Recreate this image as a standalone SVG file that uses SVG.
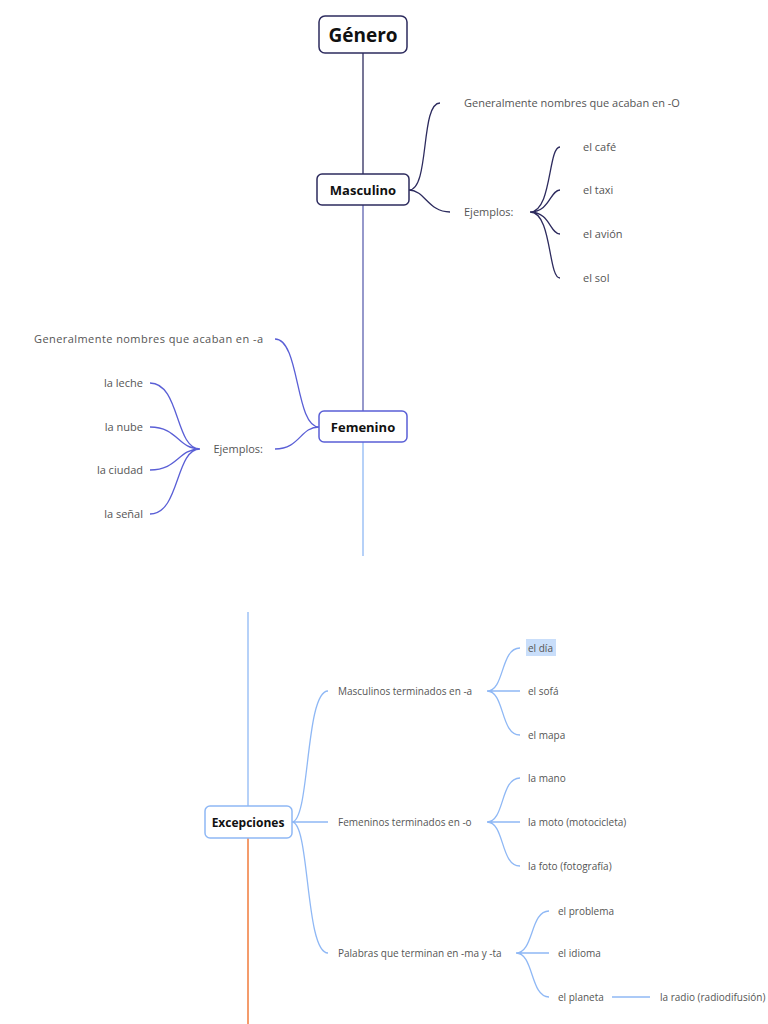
<svg xmlns="http://www.w3.org/2000/svg" width="768" height="1024" viewBox="0 0 768 1024">
<style>
text{font-family:"Open Sans","Noto Sans",sans-serif;font-size:11px;fill:#555}
#exc-items text{font-size:10px}
.b{font-weight:bold;fill:#111;font-size:13px}
.box{fill:#fff;stroke-width:1.5}
path{fill:none;stroke-width:1.3}
.n{stroke:#2d2b5e}.v{stroke:#5a5fd6}.l{stroke:#8fb8f5}.o{stroke:#f07b3b;stroke-width:1.5}
</style>
<rect width="768" height="1024" fill="#fff"/>
<g id="connectors">
<path class="n" d="M363 53V174"/>
<path class="v" d="M363 205V411" style="stroke:#5e62b0"/>
<path class="l" d="M363 442V556"/>
<path class="n" d="M409 190C430 190 420 103 440 103M409 190C425 190 428 212 450 212"/>
<path class="n" d="M530 212C552 212 548 147 560 147M530 212C550 212 550 190 560 190M530 212C550 212 550 234 560 234M530 212C552 212 548 278 560 278"/>
<path class="v" d="M319 427C295 427 300 339 275 339M319 427C300 427 300 449 275 449"/>
<path class="v" d="M200 449C175 449 180 383 150 383M200 449C178 449 178 427 150 427M200 449C178 449 178 470 150 470M200 449C175 449 180 514 150 514"/>
<path class="l" d="M248 612V806"/>
<path class="o" d="M248 838V1024"/>
<path class="l" d="M292 822C310 822 305 691 328 691M292 822H328M292 822C310 822 305 953 328 953"/>
<path class="l" d="M487 691C505 691 500 648 520 648M487 691H520M487 691C505 691 500 735 520 735"/>
<path class="l" d="M487 822C505 822 500 778 520 778M487 822H520M487 822C505 822 500 866 520 866"/>
<path class="l" d="M516 953C534 953 530 911 549 911M516 953H549M516 953C534 953 530 997 549 997"/>
<path class="l" d="M612 997H650"/>
</g>
<g id="genero"><rect class="box" x="319" y="16" width="88" height="37" rx="6" stroke="#2d2b5e"/><text class="b" x="363" y="42" text-anchor="middle" style="font-size:19px">Género</text></g>
<g id="masculino"><rect class="box" x="317" y="174" width="92" height="31" rx="5" stroke="#2d2b5e"/><text class="b" x="363" y="195" text-anchor="middle">Masculino</text></g>
<g id="femenino"><rect class="box" x="319" y="411" width="88" height="31" rx="5" stroke="#5a5fd6"/><text class="b" x="363" y="432" text-anchor="middle">Femenino</text></g>
<g id="excepciones"><rect class="box" x="205" y="806" width="87" height="32" rx="5" stroke="#8fb8f5"/><text class="b" x="248" y="827" text-anchor="middle" style="font-size:12px">Excepciones</text></g>
<g id="masc-items">
<text x="464" y="107">Generalmente nombres que acaban en -O</text>
<text x="464" y="216">Ejemplos:</text>
<text x="583" y="151">el café</text><text x="583" y="194">el taxi</text><text x="583" y="238">el avión</text><text x="583" y="282">el sol</text>
</g>
<g id="fem-items">
<text x="263" y="343" text-anchor="end" textLength="229" lengthAdjust="spacing">Generalmente nombres que acaban en -a</text>
<text x="263" y="453" text-anchor="end">Ejemplos:</text>
<text x="143" y="387" text-anchor="end">la leche</text><text x="143" y="431" text-anchor="end">la nube</text><text x="143" y="474" text-anchor="end">la ciudad</text><text x="143" y="518" text-anchor="end">la señal</text>
</g>
<g id="exc-items">
<text x="338" y="695">Masculinos terminados en -a</text>
<text x="338" y="826">Femeninos terminados en -o</text>
<text x="338" y="957">Palabras que terminan en -ma y -ta</text>
<rect x="526" y="639" width="30" height="17" fill="#c9defa"/>
<text x="528" y="652">el día</text><text x="528" y="695">el sofá</text><text x="528" y="739">el mapa</text>
<text x="528" y="782">la mano</text><text x="528" y="826">la moto (motocicleta)</text><text x="528" y="870">la foto (fotografía)</text>
<text x="558" y="915">el problema</text><text x="558" y="957">el idioma</text><text x="558" y="1001">el planeta</text>
<text x="660" y="1001">la radio (radiodifusión)</text>
</g>
</svg>
